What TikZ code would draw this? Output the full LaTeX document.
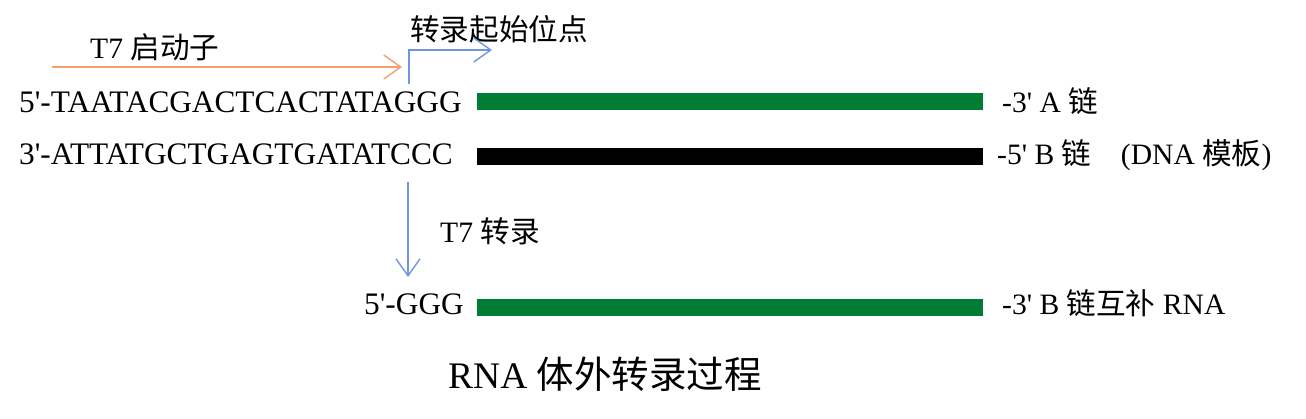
\documentclass[tikz,border=0pt]{standalone}
\usepackage{fontspec}
\setmainfont{Liberation Serif}
\newfontfamily\cjk{Noto Sans CJK SC}
\usetikzlibrary{arrows,arrows.meta,positioning}
\definecolor{promorange}{RGB}{242,160,112}
\definecolor{startblue}{RGB}{112,150,222}
\definecolor{strandgreen}{RGB}{0,125,52}
\newcommand{\pr}{\textquotesingle}

\begin{document}
\begin{tikzpicture}[x=1pt,y=-1pt,
    >={Straight Barb[length=17pt,width=24pt,line width=1.4pt]},
    seq/.style={anchor=base west,inner sep=0pt,font=\fontsize{31.3}{31}\selectfont},
    lbl/.style={anchor=base west,inner sep=0pt,font=\fontsize{29.6}{30}\selectfont},
    strand/.style={anchor=west,inner sep=0pt,minimum width=506pt,minimum height=17pt},
    barb/.style={line width=1.4pt,->}]
    \useasboundingbox (0,0) rectangle (1306,418);
    % promoter and start site
    \coordinate (promstart) at (52,67);
    \coordinate (promend)   at (402,67);
    \coordinate (tss)       at (409,84);
    \coordinate (tssend)    at (492,50);
    \node[lbl] (promlbl) at (90,58)  {T7 {\cjk 启动子}};
    \node[lbl] (tsslbl)  at (410,40) {\cjk 转录起始位点};
    \draw[barb,promorange] (promstart) -- (promend);
    \draw[barb,startblue] (tss) |- (tssend);
    % DNA strands
    \node[seq] (seqA) at (19,112)  {5\pr-TAATACGACTCACTATAGGG};
    \node[seq] (seqB) at (19,164)  {3\pr-ATTATGCTGAGTGATATCCC};
    \node[strand,fill=strandgreen] (barA) at (477,101) {};
    \node[strand,fill=black] (barB) [below=38pt of barA] {};
    \node[lbl] (endA) at (1002,112) {-3\pr\ A {\cjk 链}};
    \node[lbl] (endB) at (997,164)  {-5\pr\ B {\cjk 链}\quad(DNA {\cjk 模板})};
    % transcription
    \coordinate (txtop) at (408,182);
    \coordinate (txbot) at (408,277);
    \draw[barb,startblue] (txtop) -- (txbot);
    \node[lbl] (txlbl) at (440,242) {T7 {\cjk 转录}};
    \node[seq] (seqR) at (364,314) {5\pr-GGG};
    \node[strand,fill=strandgreen] (barR) [below=134pt of barB] {};
    \node[lbl] (endR) at (1002,314) {-3\pr\ B {\cjk 链互补} RNA};
    % caption
    \node[anchor=base west,inner sep=0pt,font=\fontsize{37.5}{38}\selectfont] (title) at (448,388) {RNA {\cjk 体外转录过程}};
\end{tikzpicture}
\end{document}
